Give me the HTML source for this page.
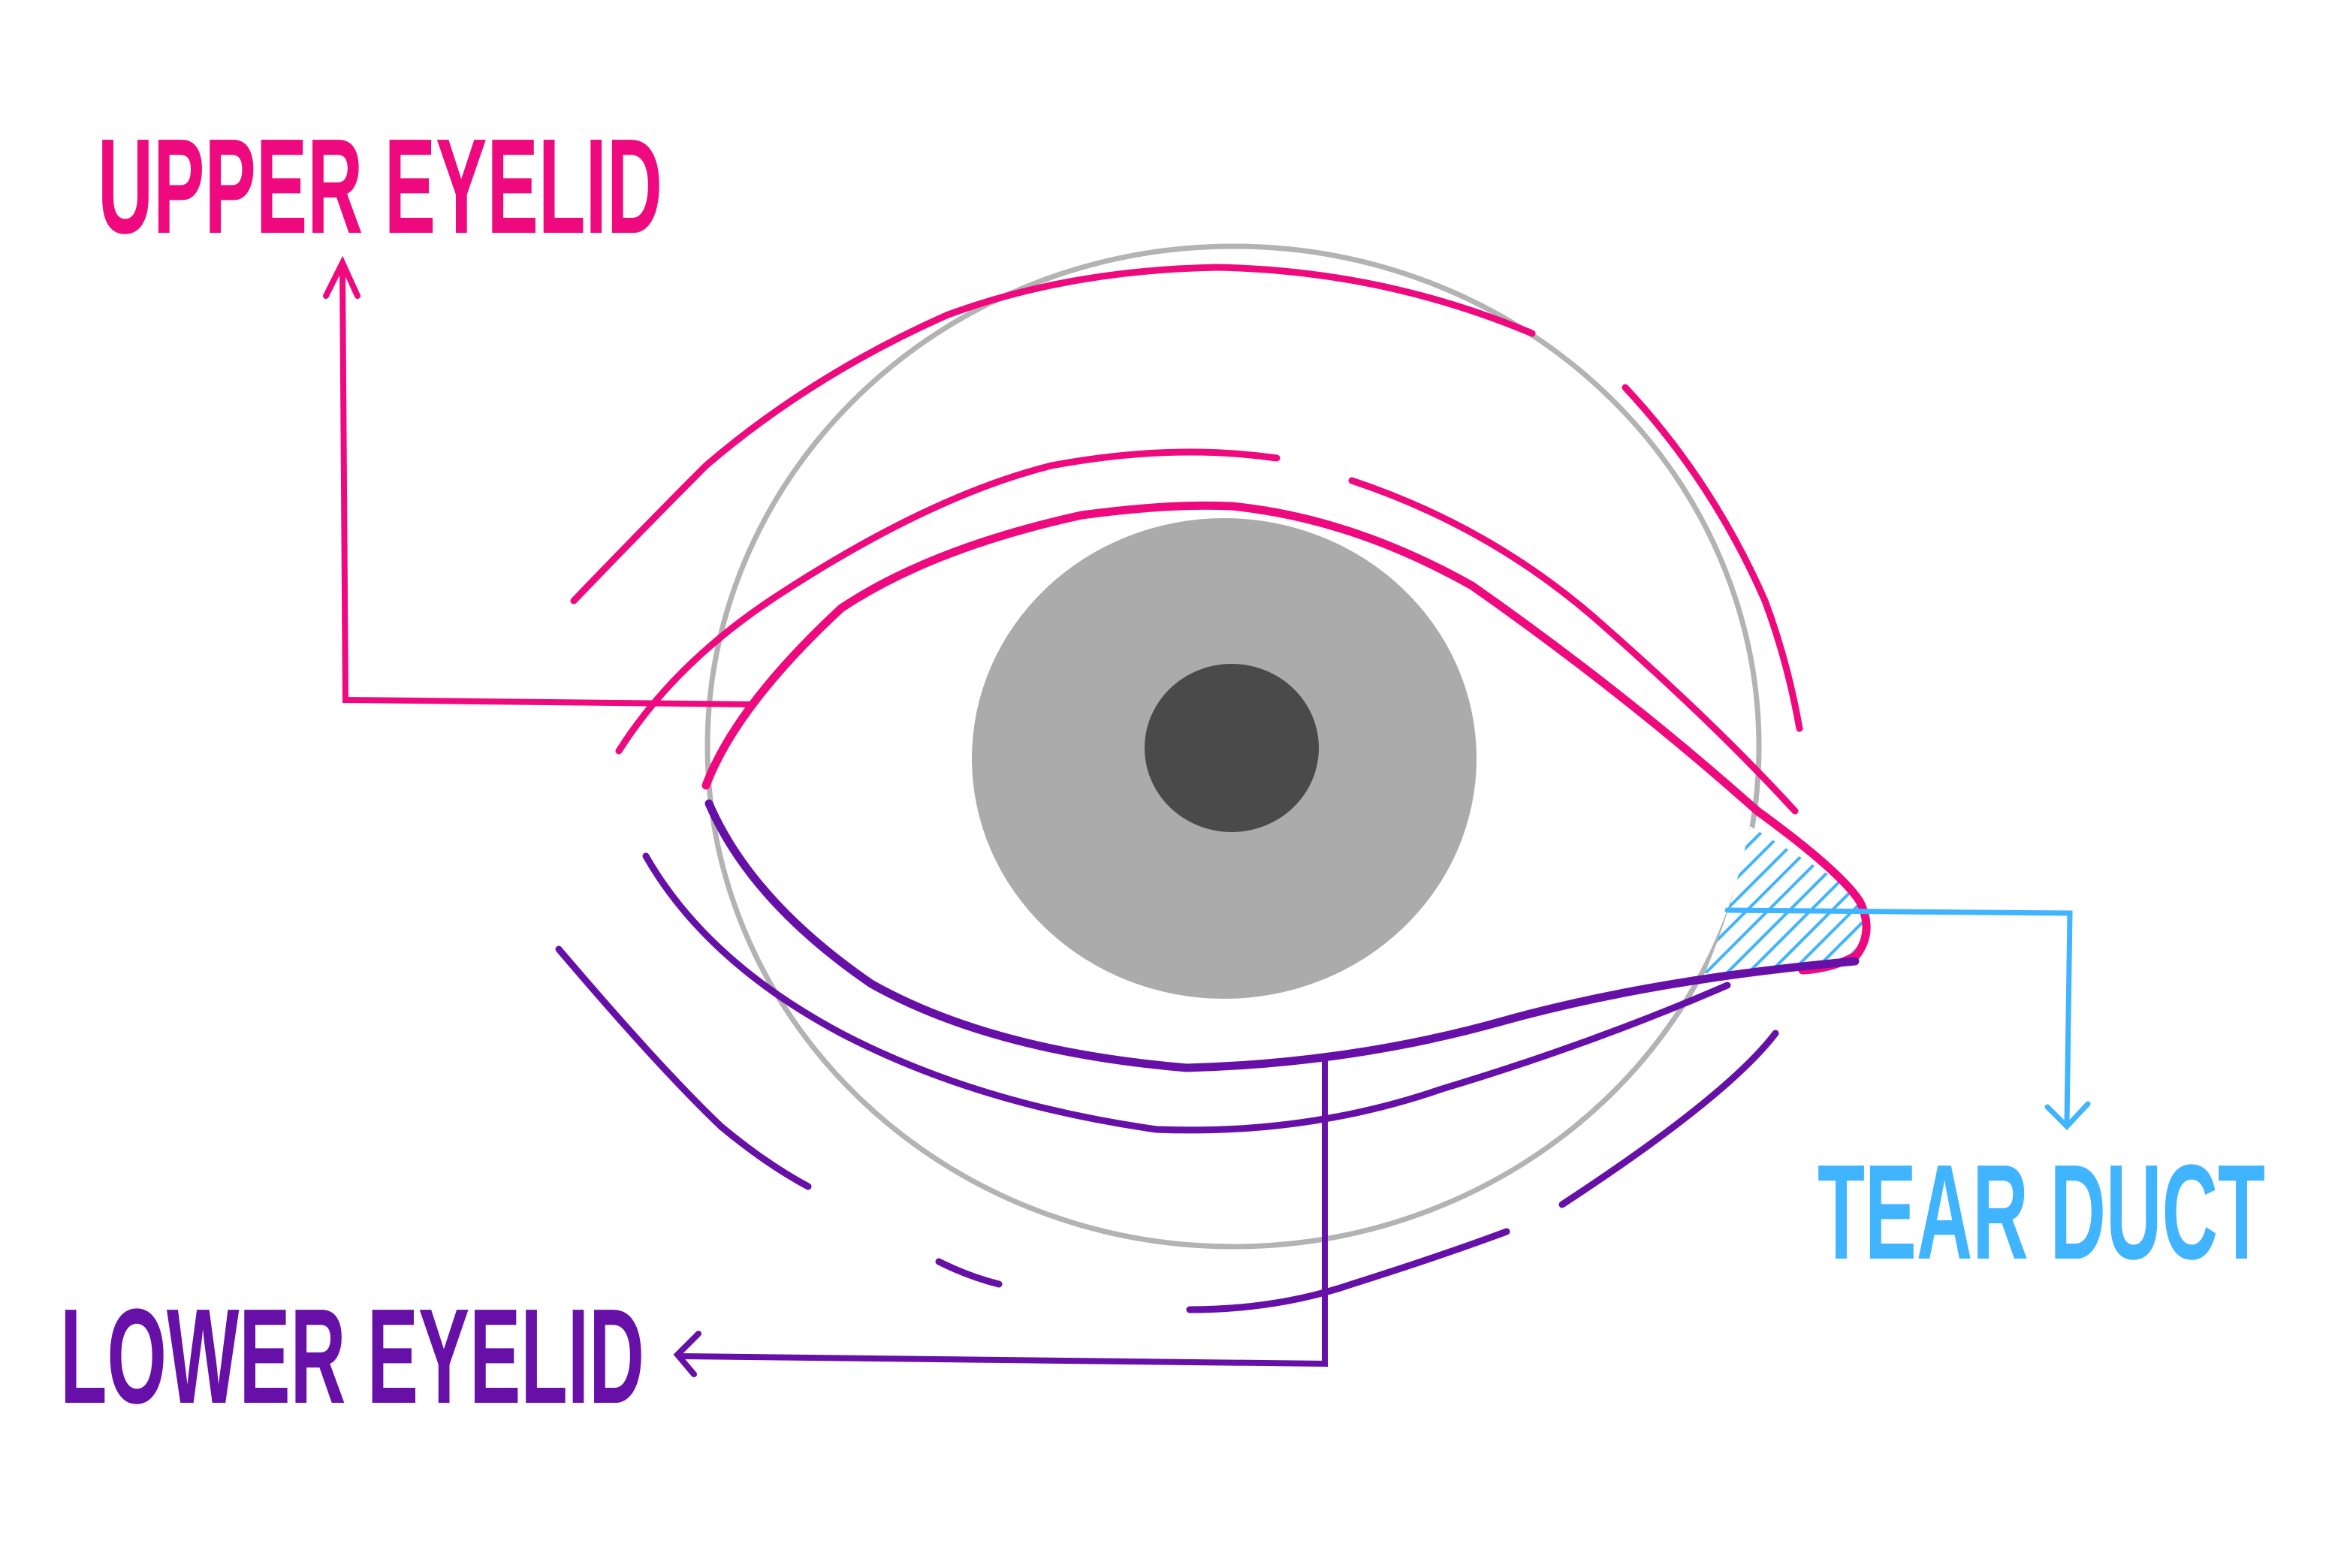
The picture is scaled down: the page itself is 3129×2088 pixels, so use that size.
<!DOCTYPE html>
<html><head><meta charset="utf-8"><style>html,body{margin:0;padding:0;background:#fff}svg{display:block}</style></head>
<body>
<svg width="3129" height="2088" viewBox="0 0 1564.5 1044" xmlns="http://www.w3.org/2000/svg">
<defs>
<pattern id="hatch" width="10" height="10" patternUnits="userSpaceOnUse" patternTransform="rotate(45)">
<rect width="10" height="10" fill="#fff"/>
<line x1="0" y1="0" x2="0" y2="10" stroke="#40b4ff" stroke-width="4"/>
</pattern>
</defs>
<rect width="1564.5" height="1044" fill="#fff"/>
<g font-family="'Liberation Sans Narrow','Liberation Sans',sans-serif" font-weight="bold" font-size="90">
<text x="65" y="155" fill="#ee0a7e" textLength="376" lengthAdjust="spacingAndGlyphs">UPPER EYELID</text>
<text x="40" y="934" fill="#6610a8" textLength="389" lengthAdjust="spacingAndGlyphs">LOWER EYELID</text>
<text x="1210" y="838" fill="#40b4ff" textLength="298" lengthAdjust="spacingAndGlyphs">TEAR DUCT</text>
</g>
<ellipse cx="821" cy="497" rx="350" ry="333" fill="none" stroke="#b3b3b3" stroke-width="3.5"/>
<ellipse cx="815" cy="505" rx="168" ry="160" fill="#ababab"/>
<ellipse cx="820" cy="498" rx="58" ry="56" fill="#4a4a4a"/>
<path d="M1165,550 L1230,590 Q1246,610 1236,635 Q1200,648 1135,648 Q1155,600 1165,550Z" fill="url(#hatch)"/>
<g fill="none" stroke="#ee0a7e" stroke-width="4.5" stroke-linecap="round">
<path d="M382,400 Q430,350 470,310 Q540,250 630,210 Q710,180 810,178 Q920,180 1020,222"/>
<path d="M412,500 Q450,440 520,395 Q620,330 700,310 Q780,295 850,305"/>
<path d="M900,320 Q990,350 1060,410 Q1140,480 1195,540"/>
<path d="M1082,258 Q1140,320 1175,400 Q1190,440 1198,485"/>
<path d="M470,523 Q490,470 560,405 Q620,365 720,343 Q780,335 820,337 Q900,345 980,390 Q1080,460 1170,540 Q1225,580 1238,600 Q1248,620 1236,636 Q1220,645 1200,646" stroke-width="5.5"/>
<path d="M228,180 L230,466 L500,469" stroke-width="4"/>
<path d="M217,197 L228,175 L238,197" stroke-width="4"/>
</g>
<g fill="none" stroke="#6610a8" stroke-width="4.5" stroke-linecap="round">
<path d="M472,535 Q500,600 580,655 Q660,700 790,711 Q900,708 1000,680 Q1100,652 1235,640" stroke-width="5.5"/>
<path d="M430,570 Q470,640 560,688 Q650,735 770,752 Q870,756 960,725 Q1060,695 1150,656"/>
<path d="M372,632 Q440,712 480,750 Q510,775 538,790"/>
<path d="M1040,802 Q1150,730 1182,688"/>
<path d="M625,840 Q645,850 665,855"/>
<path d="M792,872 Q850,872 900,855 Q960,836 1003,820"/>
<path d="M882,705 L882,908 L455,903" stroke-width="4"/>
<path d="M465,888 L451,902 L462,915" stroke-width="4"/>
</g>
<g fill="none" stroke="#40b4ff" stroke-width="3.5" stroke-linecap="round">
<path d="M1150,606 L1378,608 L1376,748"/>
<path d="M1363,737 L1376,750 L1390,735"/>
</g>
</svg>
</body></html>
